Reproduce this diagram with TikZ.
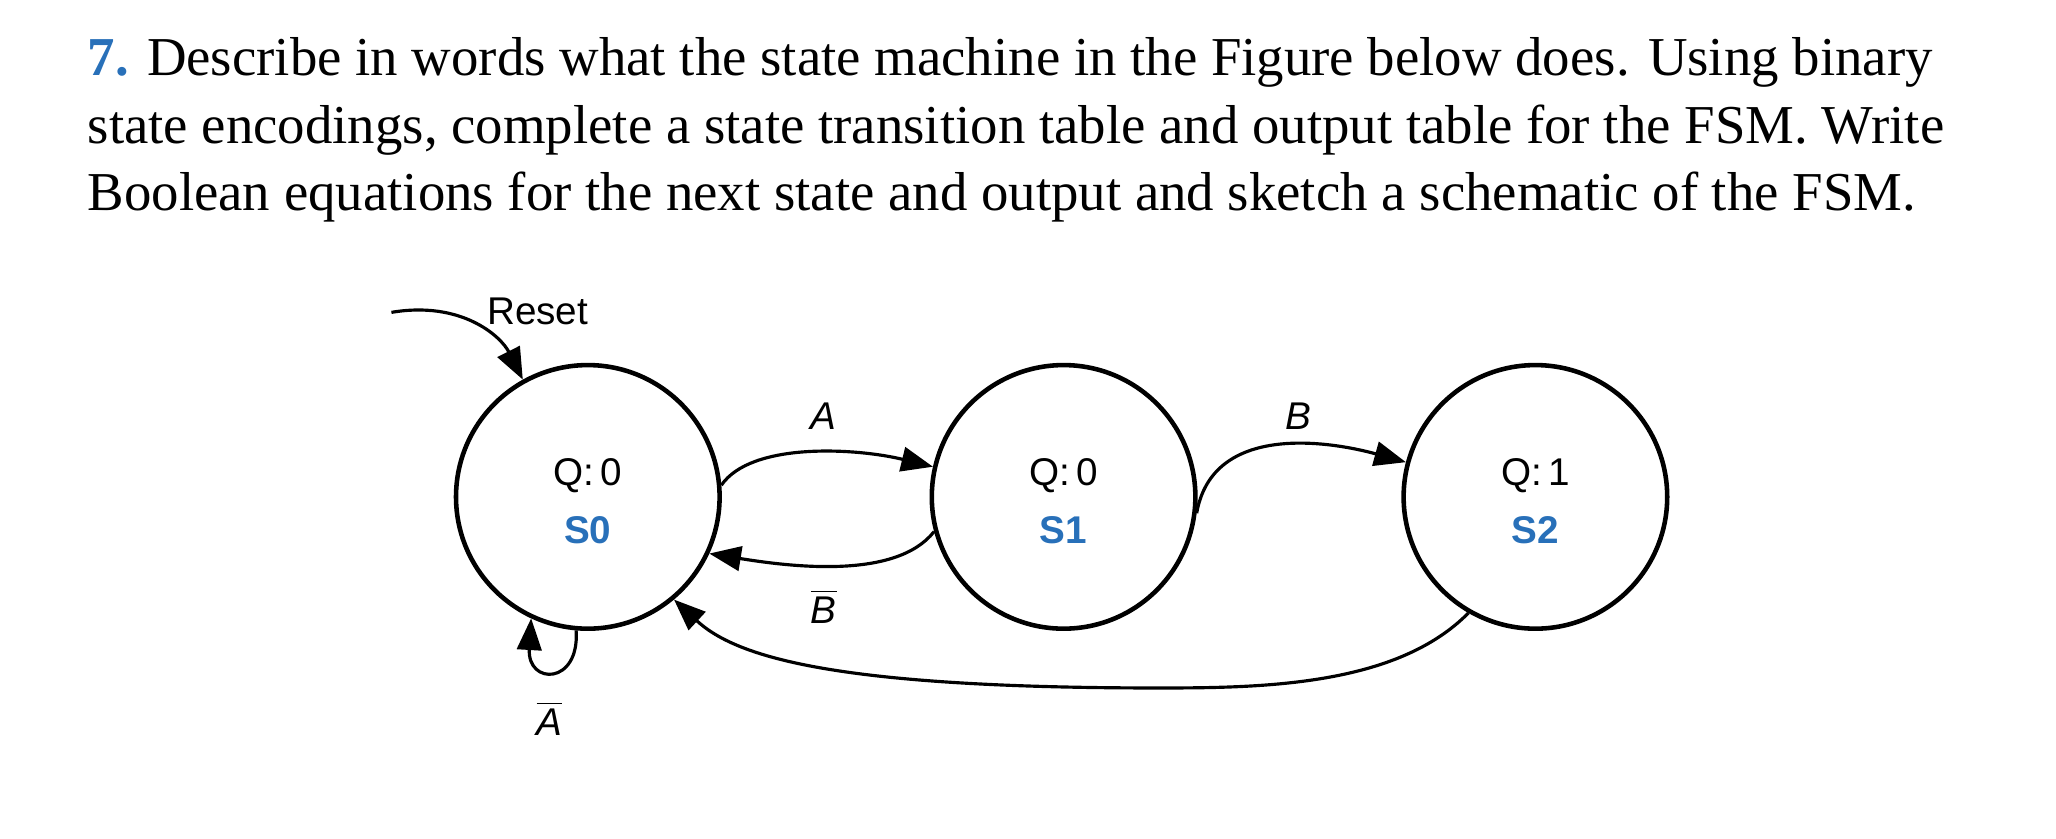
\documentclass[tikz,border=0pt]{standalone}
\usepackage{fontspec}
\setmainfont{Liberation Serif}
\newfontfamily\arial{Liberation Sans}
\usetikzlibrary{arrows.meta}
\definecolor{qblue}{RGB}{40,112,185}
\begin{document}
\begin{tikzpicture}[x=0.013179cm,y=-0.013179cm,
  st/.style={draw,circle,line width=1.3pt,minimum size=200*0.013179cm,inner sep=0pt},
  edge/.style={line width=0.9pt,-{Triangle[length=9pt,width=7pt]}},
  lab/.style={font=\arial\fontsize{11pt}{13pt}\selectfont}]
\useasboundingbox (0,0) rectangle (1560,636);
\node[anchor=north west,align=left,inner sep=0pt,font=\fontsize{15.6pt}{19.2pt}\selectfont] (title) at (66,28)
{\textcolor{qblue}{\textbf{7.}} Describe in words what the state machine in the Figure below does. Using binary\\
state encodings, complete a state transition table and output table for the FSM. Write\\
Boolean equations for the next state and output and sketch a schematic of the FSM.};
\node[st] (s0) at (446,377) {};
\node[st] (s1) at (807,377) {};
\node[st] (s2) at (1165,377) {};
\foreach \n/\s/\q in {s0/S0/0,s1/S1/0,s2/S2/1}{
  \node[lab,text=qblue,font=\arial\bfseries\fontsize{11pt}{13pt}\selectfont] at ([yshift=-25*0.013179cm]\n) {\s};
  \node[lab] at ([yshift=16*0.013179cm]\n) {Q:\,\q};
}
\coordinate (rs) at (297,237);
\node[lab] (reset) at (408,236) {Reset};
\draw[edge] (rs) .. controls (350,228) and (380,255) .. (s0.119);
\draw[edge] (s0.5) .. controls (570,335) and (650,340) .. (s1.167);
\node[lab] (la) at (625,316) {\itshape A};
\draw[edge] (s1.195) .. controls (680,440) and (600,430) .. (s0.-25);
\node[lab] (lb) at (625,460) {$\overline{\mbox{\itshape B}}$};
\draw[edge] (s1.353) .. controls (920,320) and (1010,335) .. (s2.165);
\node[lab] (lbb) at (985,316) {\itshape B};
\draw[edge] (s2.240) .. controls (1060,520) and (960,522) .. (880,522) .. controls (640,522) and (560,500) .. (s0.-50);
\draw[edge] (s0.265) .. controls (440,520) and (400,520) .. (s0.245);
\node[lab] (lna) at (417,545) {$\overline{\mbox{\itshape A}}$};
\end{tikzpicture}
\end{document}
